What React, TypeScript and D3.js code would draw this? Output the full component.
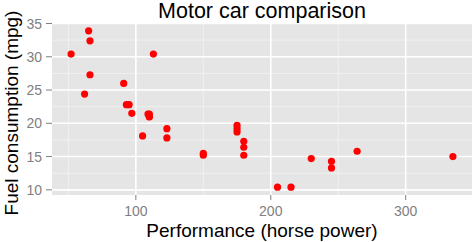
import React from "react";
import * as d3 from "d3";

const hp = [110, 110, 93, 110, 175, 105, 245, 62, 95, 123, 123, 180, 180, 180, 205, 215, 230, 66, 52, 65, 97, 150, 150, 245, 175, 66, 91, 113, 264, 175, 335, 109];
const mpg = [21.0, 21.0, 22.8, 21.4, 18.7, 18.1, 14.3, 24.4, 22.8, 19.2, 17.8, 16.4, 17.3, 15.2, 10.4, 10.4, 14.7, 32.4, 30.4, 33.9, 21.5, 15.5, 15.2, 13.3, 19.2, 27.3, 26.0, 30.4, 15.8, 19.7, 15.0, 21.4];
const xTicks = [100, 200, 300];
const xMinor = [50, 150, 250];
const yTicks = [10, 15, 20, 25, 30, 35];
const yMinor = [12.5, 17.5, 22.5, 27.5, 32.5];

export default function App() {
  const W = 474, H = 242;
  const L = 52, R = 472, T = 23, B = 195;
  const xr = d3.extent(hp) as [number, number];
  const yr = d3.extent(mpg) as [number, number];
  const xe = (xr[1] - xr[0]) * 0.05;
  const ye = (yr[1] - yr[0]) * 0.05;
  const x = d3.scaleLinear().domain([xr[0] - xe, xr[1] + xe]).range([L, R]);
  const y = d3.scaleLinear().domain([yr[0] - ye, yr[1] + ye]).range([B, T]);
  const font = "Liberation Sans, Arial, sans-serif";
  return (
    <svg width={W} height={H} style={{ position: "absolute", left: 0, top: 0 }} fontFamily={font}>
      <rect x={0} y={0} width={W} height={H} fill="white" />
      <rect x={L} y={T} width={R - L} height={B - T} fill="#e5e5e5" />
      {xMinor.map((v) => (
        <line key={"xm" + v} x1={x(v)} x2={x(v)} y1={T} y2={B} stroke="#f2f2f2" strokeWidth={0.8} />
      ))}
      {yMinor.map((v) => (
        <line key={"ym" + v} x1={L} x2={R} y1={y(v)} y2={y(v)} stroke="#f2f2f2" strokeWidth={0.8} />
      ))}
      {xTicks.map((v) => (
        <line key={"xg" + v} x1={x(v)} x2={x(v)} y1={T} y2={B} stroke="white" strokeWidth={1.6} />
      ))}
      {yTicks.map((v) => (
        <line key={"yg" + v} x1={L} x2={R} y1={y(v)} y2={y(v)} stroke="white" strokeWidth={1.6} />
      ))}
      {hp.map((h, i) => (
        <circle key={i} cx={x(h)} cy={y(mpg[i])} r={3.6} fill="#ff0000" />
      ))}
      {yTicks.map((v) => (
        <g key={"yt" + v}>
          <line x1={L - 6} x2={L} y1={y(v)} y2={y(v)} stroke="#7f7f7f" strokeWidth={1} />
          <text x={L - 10} y={y(v)} dy="0.36em" textAnchor="end" fontSize={14} fill="#7f7f7f">{v}</text>
        </g>
      ))}
      {xTicks.map((v) => (
        <g key={"xt" + v}>
          <line x1={x(v)} x2={x(v)} y1={B} y2={B + 5} stroke="#7f7f7f" strokeWidth={1} />
          <text x={x(v)} y={216} textAnchor="middle" fontSize={14} fill="#7f7f7f">{v}</text>
        </g>
      ))}
      <text x={262} y={18} textAnchor="middle" fontSize={21.5} fill="black">Motor car comparison</text>
      <text x={262} y={237} textAnchor="middle" fontSize={19} fill="black">Performance (horse power)</text>
      <text transform={`translate(18,113) rotate(-90)`} textAnchor="middle" fontSize={19} fill="black">Fuel consumption (mpg)</text>
    </svg>
  );
}
